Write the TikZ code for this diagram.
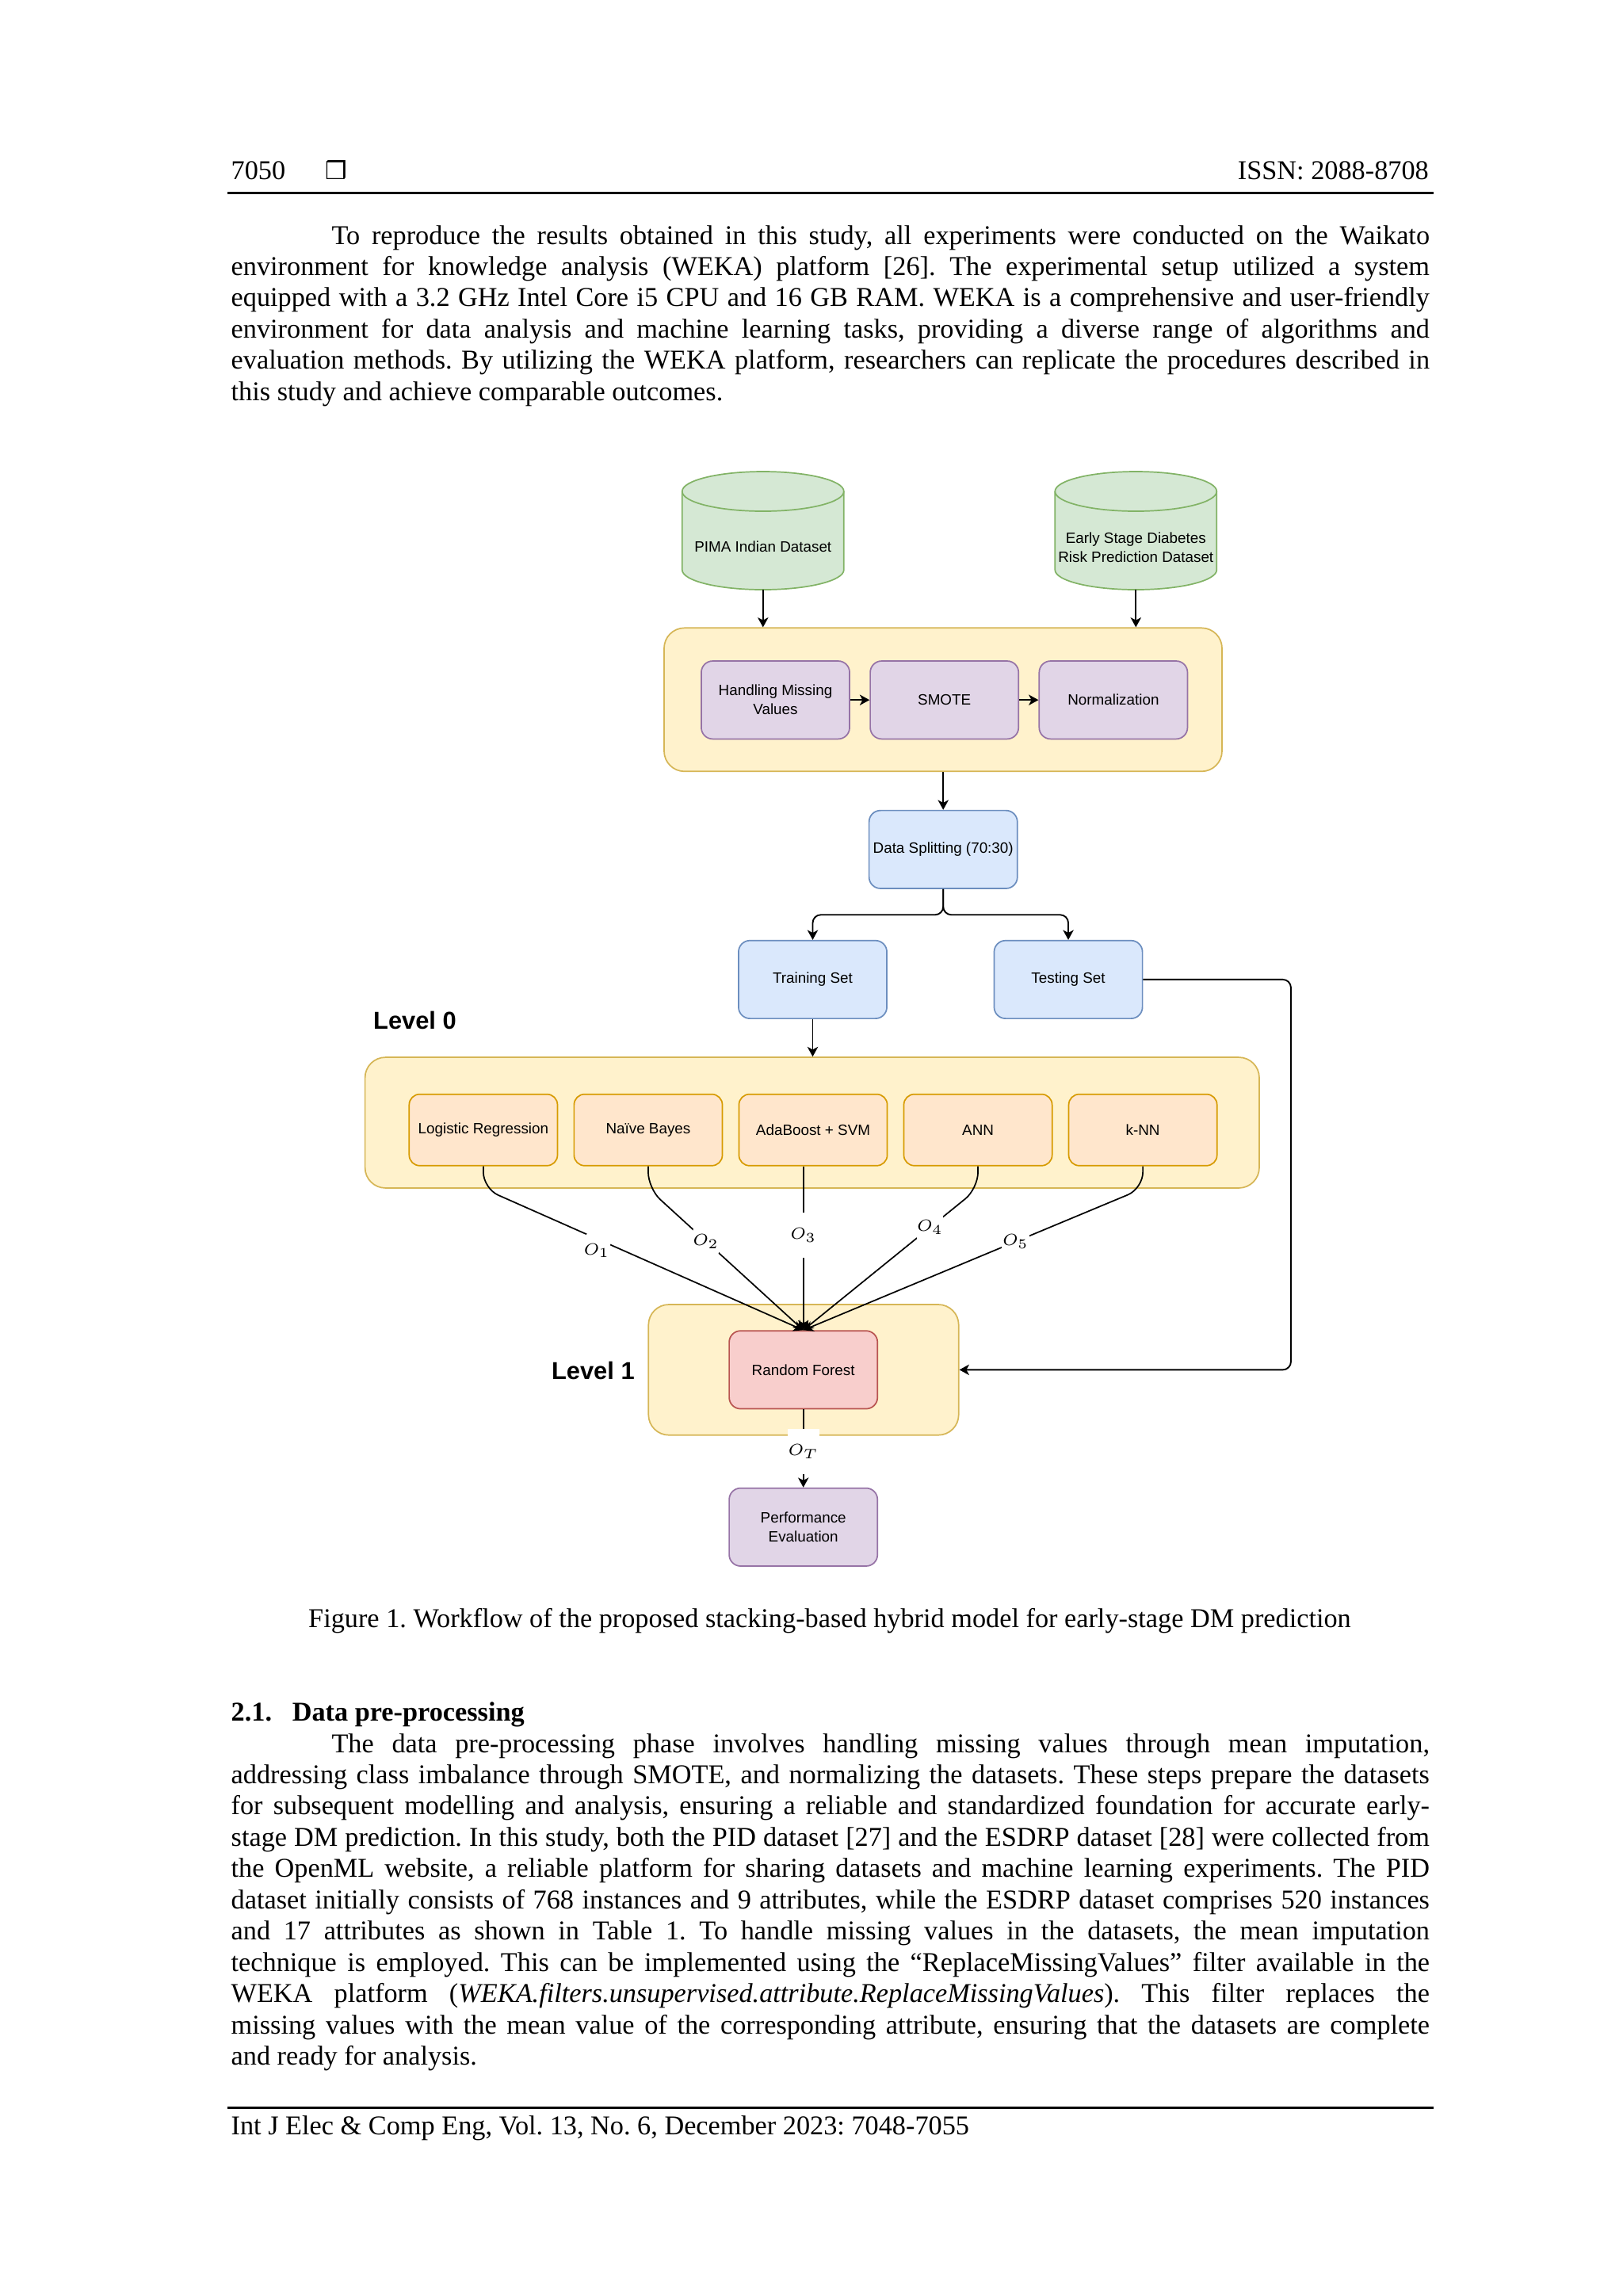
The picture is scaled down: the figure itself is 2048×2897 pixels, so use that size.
\documentclass[tikz,border=0pt]{standalone}
\usepackage[no-math]{fontspec}
\setmainfont{Liberation Serif}
\newfontfamily\diagfont{Liberation Sans}
\newfontfamily\symbfont{DejaVu Sans}
\usepackage{tikz}
\usetikzlibrary{positioning}
\usetikzlibrary{arrows.meta}
\frenchspacing

\definecolor{dbfill}{HTML}{D5E8D4}
\definecolor{dbdraw}{HTML}{82B366}
\definecolor{grpfill}{HTML}{FFF2CC}
\definecolor{grpdraw}{HTML}{D6B656}
\definecolor{prefill}{HTML}{E1D5E7}
\definecolor{predraw}{HTML}{9673A6}
\definecolor{setfill}{HTML}{DAE8FC}
\definecolor{setdraw}{HTML}{6C8EBF}
\definecolor{basefill}{HTML}{FFE6CC}
\definecolor{basedraw}{HTML}{D79B00}
\definecolor{metafill}{HTML}{F8CECC}
\definecolor{metadraw}{HTML}{B85450}

\newcommand{\jline}[1]{\hbox to\linewidth{#1}}
\newcommand{\lastline}[1]{\hbox{#1}}

\tikzset{
	group/.style={draw=grpdraw, fill=grpfill, line width=0.5pt, rounded corners=7.5pt, inner sep=0},
	box/.style={draw, line width=0.5pt, rounded corners=4.2pt, minimum width=54.6pt, minimum height=28.7pt, inner sep=0, align=center, font=\diagfont\fontsize{5.5}{7}\selectfont},
	prebox/.style={box, draw=predraw, fill=prefill},
	setbox/.style={box, draw=setdraw, fill=setfill},
	basebox/.style={box, draw=basedraw, fill=basefill, minimum height=26.3pt, rounded corners=3.9pt},
	metabox/.style={box, draw=metadraw, fill=metafill},
	cyl/.style={draw=dbdraw, fill=dbfill, line width=0.5pt},
	dbtext/.style={align=center, inner sep=0, font=\diagfont\fontsize{5.5}{7}\selectfont},
	levellabel/.style={inner sep=0, anchor=west, font=\diagfont\bfseries\fontsize{9}{11}\selectfont},
	arr/.style={-{Stealth[length=3.6pt,width=3.9pt,inset=1pt]}, line width=0.55pt},
	olabel/.style={fill=white, inner xsep=0.3pt, inner ysep=0, minimum height=16.5pt, font=\fontsize{6}{7}\selectfont},
	pagetext/.style={inner sep=0, anchor=base west, font=\fontsize{10}{11.51}\selectfont},
}

\begin{document}
\begin{tikzpicture}[x=0.01025390625cm, y=0.01025390625cm]
	\fill[white] (0,0) rectangle (2048,-2897);
	\useasboundingbox (0,0) rectangle (2048,-2897);

	%Header
	\node[pagetext] (pagenum) at (291,-226.7) {7050};
	\node[pagetext, font=\symbfont\fontsize{9}{11}\selectfont] (mark) at (410,-226.7) {❒};
	\node[pagetext, anchor=base east] (issn) at (1803.5,-226.7) {ISSN: 2088-8708};
	\draw[line width=1pt] (287.3,-243.3) -- (1808.7,-243.3);

	%Text above
	\node[pagetext] (intro) at (291,-308) {\begin{minipage}[t]{441.2pt}\fontsize{10}{11.51}\selectfont
		\jline{\hspace{37pt}To reproduce the results obtained in this study, all experiments were conducted on the Waikato}
		\jline{environment for knowledge analysis (WEKA) platform [26]. The experimental setup utilized a system}
		\jline{equipped with a 3.2 GHz Intel Core i5 CPU and 16 GB RAM. WEKA is a comprehensive and user-friendly}
		\jline{environment for data analysis and machine learning tasks, providing a diverse range of algorithms and}
		\jline{evaluation methods. By utilizing the WEKA platform, researchers can replicate the procedures described in}
		\lastline{this study and achieve comparable outcomes.}
	\end{minipage}};

	%Groups
	\node[group, minimum width=205.4pt, minimum height=52.8pt] (prep) at (1190,-882.8) {};
	\node[group, minimum width=329.2pt, minimum height=48.1pt] (level0) at (1024.8,-1416.5) {};
	\node[group, minimum width=114.2pt, minimum height=48.05pt] (level1) at (1014,-1728.35) {};

	%Datasets
	\draw[cyl] (860.8,-620) -- (860.8,-719) arc[start angle=180, end angle=360, x radius=102, y radius=25] -- (1064.8,-620) arc[start angle=0, end angle=180, x radius=102, y radius=25] -- cycle;
	\draw[cyl, fill=none] (860.8,-620) arc[start angle=180, end angle=360, x radius=102, y radius=25];
	\draw[cyl] (1331.3,-620) -- (1331.3,-719) arc[start angle=180, end angle=360, x radius=102, y radius=25] -- (1535.3,-620) arc[start angle=0, end angle=180, x radius=102, y radius=25] -- cycle;
	\draw[cyl, fill=none] (1331.3,-620) arc[start angle=180, end angle=360, x radius=102, y radius=25];
	\node[dbtext] (pima) at (962.8,-690) {PIMA Indian Dataset};
	\node[dbtext] (esdrp) at (1433.3,-691) {Early Stage Diabetes\\Risk Prediction Dataset};
	\coordinate (pimabase) at (962.8,-744);
	\coordinate (esdrpbase) at (1433.3,-744);

	%Nodes
	\node[prebox] (missing) at (978.5,-883.2) {Handling Missing\\Values};
	\node[prebox, right=7.1pt of missing] (smote) {SMOTE};
	\node[prebox, right=7.1pt of smote] (norm) {Normalization};

	\node[setbox] (split) at (1190.2,-1071.8) {Data Splitting (70:30)};
	\node[setbox] (train) at (1025.5,-1235.9) {Training Set};
	\node[setbox, right=39pt of train] (test) {Testing Set};

	\node[levellabel] (l0label) at (470.5,-1287.3) {Level 0};
	\node[basebox] (lr) at (609.9,-1425.7) {Logistic Regression};
	\node[basebox, right=5.6pt of lr] (nb) {Naïve Bayes};
	\node[basebox, right=5.6pt of nb] (ada) {AdaBoost + SVM};
	\node[basebox, right=5.6pt of ada] (ann) {ANN};
	\node[basebox, right=5.6pt of ann] (knn) {k-NN};

	\node[levellabel] (l1label) at (695.4,-1729) {Level 1};
	\node[metabox] (rf) at (1013.7,-1728.35) {Random Forest};
	\node[prebox, below=28.7pt of rf] (perf) {Performance\\Evaluation};

	%Lines
	\draw[arr] (pimabase) -- (pimabase |- prep.north);
	\draw[arr] (esdrpbase) -- (esdrpbase |- prep.north);
	\draw[arr] (missing.east) -- (smote.west);
	\draw[arr] (smote.east) -- (norm.west);
	\draw[arr] (prep.south -| split.north) -- (split.north);
	\draw[arr, rounded corners=3pt] (split.south) -- ++(0,-32.4) -| (train.north);
	\draw[arr, rounded corners=3pt] (split.south) -- ++(0,-32.4) -| (test.north);
	\draw[arr] (train.south) -- (train.south |- level0.north);
	\draw[arr, rounded corners=3pt] (test.east) -- ++(186.5,0) |- (level1.east);

	\draw[arr, line width=0.5pt, rounded corners=6pt] (lr.south) -- ++(0,-28) -- node[olabel, pos=0.354, yshift=-4.4pt] {$O_1$} (rf.north);
	\draw[arr, line width=0.5pt, rounded corners=6pt] (nb.south) -- ++(0,-28) -- node[olabel, pos=0.372] {$O_2$} (rf.north);
	\draw[arr, line width=0.5pt] (rf.north |- ada.south) -- node[olabel, pos=0.42] {$O_3$} (rf.north);
	\draw[arr, line width=0.5pt, rounded corners=6pt] (ann.south) -- ++(0,-28) -- node[olabel, pos=0.275] {$O_4$} (rf.north);
	\draw[arr, line width=0.5pt, rounded corners=6pt] (knn.south) -- ++(0,-28) -- node[olabel, pos=0.375] {$O_5$} (rf.north);
	\draw[arr, line width=0.5pt] (rf.south) -- node[olabel, pos=0.54] {$O_T$} (perf.north);

	%Caption
	\node[pagetext, anchor=base] (caption) at (1047,-2053) {Figure 1. Workflow of the proposed stacking-based hybrid model for early-stage DM prediction};

	%Text below
	\node[pagetext, font=\bfseries\fontsize{10}{11.51}\selectfont] (sechead) at (291,-2171) {\makebox[22.5pt][l]{2.1.}Data pre-processing};
	\node[pagetext] (prepro) at (291,-2211) {\begin{minipage}[t]{441.2pt}\fontsize{10}{11.51}\selectfont
		\jline{\hspace{37pt}The data pre-processing phase involves handling missing values through mean imputation,}
		\jline{addressing class imbalance through SMOTE, and normalizing the datasets. These steps prepare the datasets}
		\jline{for subsequent modelling and analysis, ensuring a reliable and standardized foundation for accurate early-}
		\jline{stage DM prediction. In this study, both the PID dataset [27] and the ESDRP dataset [28] were collected from}
		\jline{the OpenML website, a reliable platform for sharing datasets and machine learning experiments. The PID}
		\jline{dataset initially consists of 768 instances and 9 attributes, while the ESDRP dataset comprises 520 instances}
		\jline{and 17 attributes as shown in Table 1. To handle missing values in the datasets, the mean imputation}
		\jline{technique is employed. This can be implemented using the “ReplaceMissingValues” filter available in the}
		\jline{WEKA platform (\textit{WEKA.filters.unsupervised.attribute.ReplaceMissingValues}). This filter replaces the}
		\jline{missing values with the mean value of the corresponding attribute, ensuring that the datasets are complete}
		\lastline{and ready for analysis.}
	\end{minipage}};

	%Footer
	\draw[line width=1pt] (287.3,-2659.3) -- (1808.7,-2659.3);
	\node[pagetext] (footer) at (291,-2693) {Int J Elec \& Comp Eng, Vol. 13, No. 6, December 2023: 7048-7055};
\end{tikzpicture}
\end{document}
